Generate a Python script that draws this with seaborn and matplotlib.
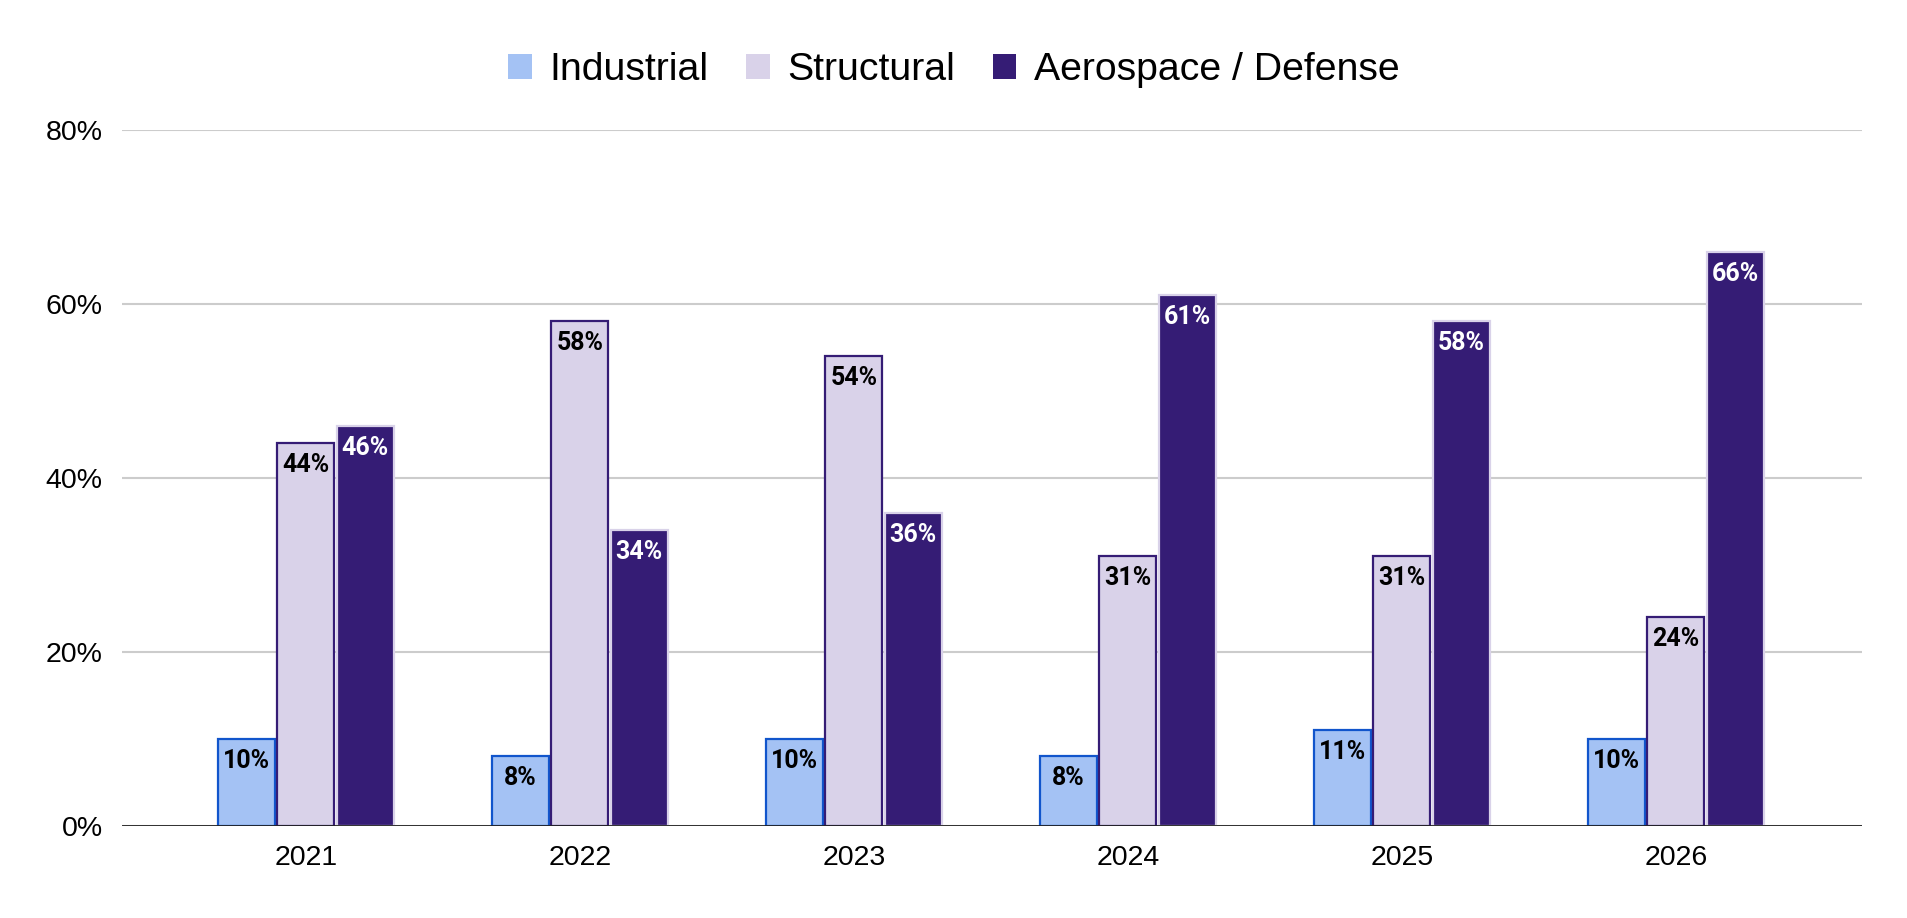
import matplotlib
matplotlib.use("Agg")
import matplotlib.pyplot as plt
from matplotlib.patches import Patch
from matplotlib.ticker import FuncFormatter
import seaborn as sns
import pandas as pd

years = ["2021", "2022", "2023", "2024", "2025", "2026"]
industrial = [10, 8, 10, 8, 11, 10]
structural = [44, 58, 54, 31, 31, 24]
aerospace = [46, 34, 36, 61, 58, 66]

series_names = ["Industrial", "Structural", "Aerospace / Defense"]
fill_colors = ["#a4c2f4", "#d9d2e9", "#351c75"]
edge_colors = ["#1155cc", "#351c75", "#d9d2e9"]
label_colors = ["black", "black", "white"]

rows = []
for name, vals in zip(series_names, [industrial, structural, aerospace]):
    for y, v in zip(years, vals):
        rows.append({"year": y, "series": name, "share": v / 100})
df = pd.DataFrame(rows)

sns.set_style("white")
plt.rcParams["font.family"] = ["Liberation Sans", "DejaVu Sans"]

fig = plt.figure(figsize=(19.08, 9.18), dpi=100)
ax = fig.add_axes([0.064, 0.1002, 0.912, 0.7582])

sns.barplot(data=df, x="year", y="share", hue="series", order=years,
            hue_order=series_names, palette=fill_colors, saturation=1,
            width=0.65, gap=0.04, ax=ax, legend=False)

for cont, ec, lc in zip(ax.containers, edge_colors, label_colors):
    for bar in cont:
        bar.set_edgecolor(ec)
        bar.set_linewidth(1.6)
        h = bar.get_height()
        ax.annotate(f"{round(h * 100)}%",
                    (bar.get_x() + bar.get_width() / 2, h),
                    xytext=(0, -7), textcoords="offset points",
                    ha="center", va="top", fontsize=18, fontweight="bold",
                    color=lc, family=["Roboto", "DejaVu Sans"])

ax.set_ylim(0, 0.8)
ax.set_xlim(-0.67, 5.68)
ax.set_yticks([0, 0.2, 0.4, 0.6, 0.8])
ax.yaxis.set_major_formatter(FuncFormatter(lambda v, p: f"{v * 100:.0f}%"))
ax.grid(axis="y", color="#cccccc", linewidth=1.5)
ax.set_axisbelow(True)
ax.axhline(0, color="#222222", linewidth=2, zorder=5)
for s in ax.spines.values():
    s.set_visible(False)
ax.tick_params(axis="y", length=0, pad=14, labelsize=20.5, labelcolor="black")
ax.tick_params(axis="x", length=0, pad=14, labelsize=20.5, labelcolor="black")
ax.set_xlabel("")
ax.set_ylabel("")

handles = [Patch(facecolor=c, edgecolor="none") for c in fill_colors]
fig.legend(handles, series_names, loc="upper center", bbox_to_anchor=(0.5, 0.982),
           ncol=3, frameon=False, fontsize=28.3, handlelength=0.6, handleheight=0.6,
           handletextpad=0.45, columnspacing=0.95, labelcolor="black")

fig.savefig("out.png", dpi=100)
